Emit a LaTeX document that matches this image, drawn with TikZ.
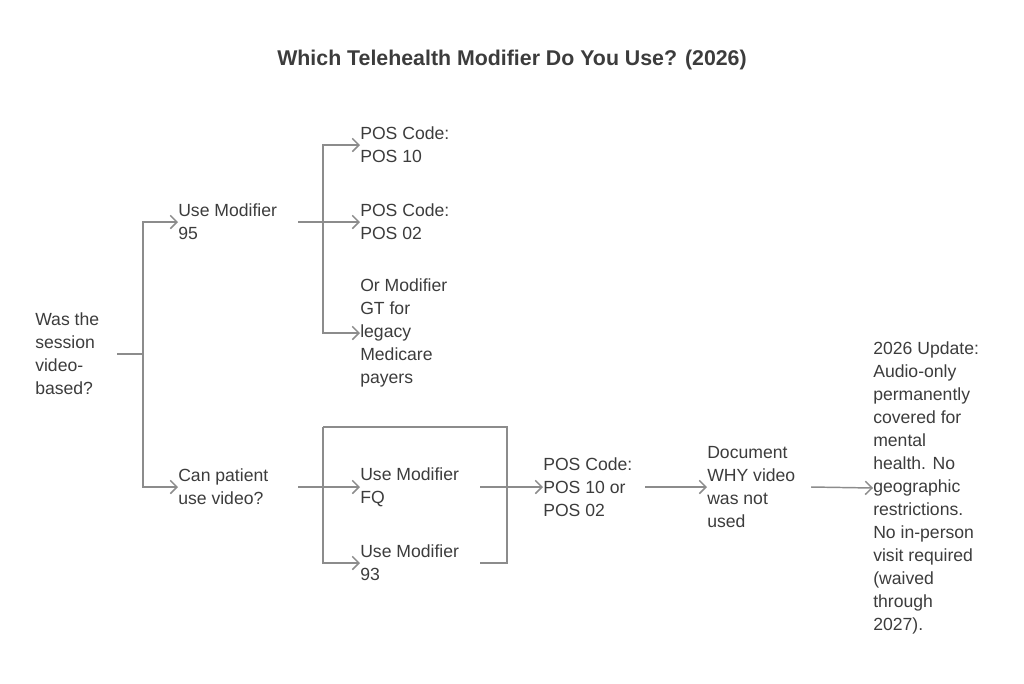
\documentclass[tikz,border=0pt]{standalone}
\usepackage{fontspec}
\setmainfont{Liberation Sans}
\usetikzlibrary{positioning, arrows.meta}
\definecolor{txtgray}{HTML}{3C3C3C}
\definecolor{linegray}{HTML}{8C8C8C}
\tikzset{ lbl/.style={anchor=west, align=left, inner sep=0pt, text=txtgray,
            font=\fontsize{13.2}{17.3}\selectfont},
          link/.style={draw=linegray, line width=1.1pt},
          arr/.style={link, -{Straight Barb[length=5pt,width=10pt]}}}
\begin{document}
\begin{tikzpicture}[x=0.75pt,y=-0.75pt]
\useasboundingbox (0,0) rectangle (1024,683);

\node[font=\fontsize{16}{19}\selectfont\bfseries, text=txtgray] (title) at (512,60)
  {Which Telehealth Modifier Do You Use? (2026)};

% question and first split
\node[lbl] (video) at (35,354) {Was the\\session\\video-\\based?};
\node[lbl] (mod95) at (178,222) {Use Modifier\\95};
\node[lbl] (canuse) at (178,487) {Can patient\\use video?};
\coordinate (j1) at (143,354);
\draw[link] (117,354) -- (j1);
\draw[arr] (j1) |- (mod95.west);
\draw[arr] (j1) |- (canuse.west);

% modifier 95 branch
\node[lbl] (pos10) at (360,145) {POS Code:\\POS 10};
\node[lbl] (pos02) at (360,222) {POS Code:\\POS 02};
\node[lbl] (gt) at (360,333) {Or Modifier\\GT for\\legacy\\Medicare\\payers};
\coordinate (j2) at (323,222);
\draw[link] (298,222) -- (j2);
\draw[arr] (j2) |- (pos10.west);
\draw[arr] (j2) -- (pos02.west);
\draw[arr] (j2) |- (gt.west);

% no-video branch
\node[lbl] (fq) at (360,487) {Use Modifier\\FQ};
\node[lbl] (mod93) at (360,563) {Use Modifier\\93};
\node[lbl] (posboth) at (543,487) {POS Code:\\POS 10 or\\POS 02};
\node[lbl] (why) at (707,487) {Document\\WHY video\\was not\\used};
\node[lbl] (update) at (873,488) {2026 Update:\\Audio-only\\permanently\\covered for\\mental\\health. No\\geographic\\restrictions.\\No in-person\\visit required\\(waived\\through\\2027).};
\coordinate (j3) at (323,487);
\draw[link] (298,487) -- (j3);
\draw[link] (323,427) -- (j3);
\draw[arr] (j3) -- (fq.west);
\draw[arr] (j3) |- (mod93.west);
\draw[link] (323,427) -- (507,427) -- (507,563) -- (480,563);
\draw[arr] (480,487) -- (posboth.west);
\draw[arr] (645,487) -- (why.west);
\draw[arr] (811,487) -- (update.west);
\end{tikzpicture}
\end{document}
